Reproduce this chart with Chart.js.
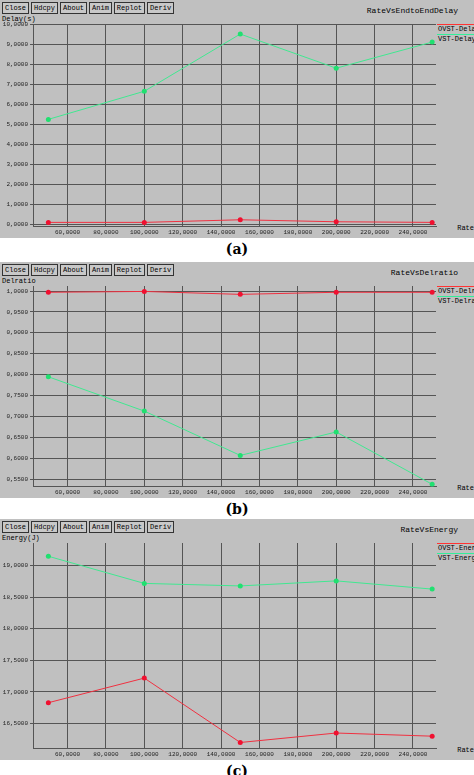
<!DOCTYPE html>
<html lang="en">
  <head>
    <meta charset="UTF-8" />
    <title>Rate charts</title>
    <script src="https://cdn.jsdelivr.net/npm/chart.js"></script>
    <style>
      body { margin: 0; background: #fff; font-family: "Liberation Mono", monospace; }
      .panel { position: absolute; left: 0; width: 474px; background: #c0c0c0; overflow: hidden; }
      .bar { position: absolute; left: 2px; top: 2px; display: flex; gap: 2px; }
      .bar span { border: 1px solid #333; font-size: 7px; padding: 1px 2px; background: #c8c8c8; }
      .title { position: absolute; right: 16px; top: 6px; font-size: 8px; }
      .ylab { position: absolute; left: 2px; top: 15px; font-size: 7px; }
      .rate { position: absolute; right: 0; font-size: 7px; }
      .leg { position: absolute; left: 437px; font-size: 7px; line-height: 9px; white-space: nowrap; }
      .leg div { border-top: 1px solid; padding-left: 1px; }
      canvas { position: absolute; left: 0; }
      .cap { position: absolute; width: 474px; text-align: center; font: bold 14px "DejaVu Serif", serif; }
    </style>
  </head>
  <body>
    <div id="root"></div>
    <script>
      const rates = [50000, 100000, 150000, 200000, 250000];
      const xTicks = [60000, 80000, 100000, 120000, 140000, 160000, 180000, 200000, 220000, 240000];

      const delayVST = [5.25, 6.65, 9.5, 7.8, 9.1];
      const delayOVST = [0.12, 0.12, 0.25, 0.15, 0.12];

      const delratioVST = [0.795, 0.713, 0.607, 0.663, 0.538];
      const delratioOVST = [0.997, 0.999, 0.992, 0.997, 0.997];

      const energyVST = [19.15, 18.72, 18.68, 18.76, 18.63];
      const energyOVST = [16.83, 17.22, 16.2, 16.35, 16.3];

      const panels = [
        { top: 0, h: 238, cap: "(a)", title: "RateVsEndtoEndDelay", ylab: "Delay(s)", names: ["OVST-Delay", "VST-Delay"],
          ovst: delayOVST, vst: delayVST, min: -0.1, max: 10, step: 1 },
        { top: 262, h: 236, cap: "(b)", title: "RateVsDelratio", ylab: "Delratio", names: ["OVST-Delratio", "VST-Delratio"],
          ovst: delratioOVST, vst: delratioVST, min: 0.532, max: 1.012, step: 0.05 },
        { top: 519, h: 241, cap: "(c)", title: "RateVsEnergy", ylab: "Energy(J)", names: ["OVST-Energy", "VST-Energy"],
          ovst: energyOVST, vst: energyVST, min: 16.1, max: 19.36, step: 0.5 },
      ];

      const tickFont = { size: 6, family: "Liberation Mono" };
      const root = document.getElementById("root");
      panels.forEach((p) => {
        const div = document.createElement("div");
        div.className = "panel";
        div.style.top = p.top + "px";
        div.style.height = p.h + "px";
        div.innerHTML = `
          <div class="bar"><span>Close</span><span>Hdcpy</span><span>About</span><span>Anim</span><span>Replot</span><span>Deriv</span></div>
          <div class="title">${p.title}</div>
          <div class="ylab">${p.ylab}</div>
          <div class="leg" style="top:24px"><div style="border-color:#f33">${p.names[0]}</div><div style="border-color:#3e9">${p.names[1]}</div></div>
          <div class="rate" style="top:${p.h - 14}px">Rate</div>
          <canvas width="474" height="${p.h - 18}" style="top:18px;width:474px;height:${p.h - 18}px"></canvas>`;
        root.appendChild(div);
        const cap = document.createElement("div");
        cap.className = "cap";
        cap.style.top = p.top + p.h + 3 + "px";
        cap.textContent = p.cap;
        root.appendChild(cap);

        new Chart(div.querySelector("canvas"), {
          type: "line",
          data: {
            labels: rates,
            datasets: [
              { label: p.names[0], data: rates.map((r, i) => ({ x: r, y: p.ovst[i] })), borderColor: "#f03040",
                backgroundColor: "#f01030", borderWidth: 1, pointRadius: 2.5, pointBorderWidth: 0 },
              { label: p.names[1], data: rates.map((r, i) => ({ x: r, y: p.vst[i] })), borderColor: "#40e890",
                backgroundColor: "#20e070", borderWidth: 1, pointRadius: 2.5, pointBorderWidth: 0 },
            ],
          },
          options: {
            responsive: false,
            animation: false,
            layout: { padding: { top: 6, right: 38, bottom: 0, left: 0 } },
            plugins: { legend: { display: false }, tooltip: { enabled: false } },
            scales: {
              x: {
                type: "linear", min: 42000, max: 252000,
                afterBuildTicks: (s) => { s.ticks = xTicks.map((v) => ({ value: v })); },
                ticks: { font: tickFont, color: "#222", maxRotation: 0, padding: 2, autoSkip: false,
                  callback: (v) => v / 1000 + ",0000" },
                grid: { color: "#555", tickLength: 0 },
                border: { color: "#555" },
              },
              y: {
                min: p.min, max: p.max,
                afterBuildTicks: (s) => {
                  const t = [];
                  for (let v = Math.ceil(p.min / p.step) * p.step; v <= p.max + 1e-9; v += p.step) t.push({ value: +v.toFixed(4) });
                  s.ticks = t;
                },
                afterFit: (s) => { s.width = 33; },
                ticks: { font: tickFont, color: "#222", padding: 2, autoSkip: false,
                  callback: (v) => v.toFixed(4).replace(".", ",") },
                grid: { color: "#555", tickLength: 3 },
                border: { color: "#555" },
              },
            },
          },
        });
      });
    </script>
  </body>
</html>
